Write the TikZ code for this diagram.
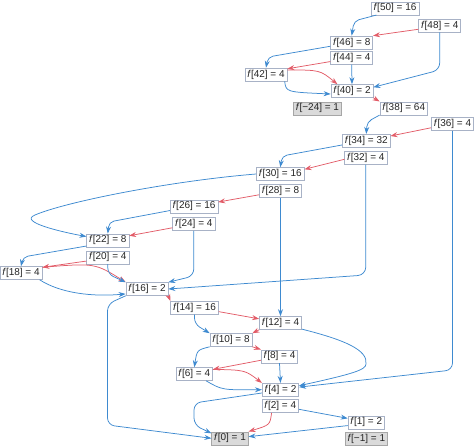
\documentclass[tikz,border=0pt]{standalone}
\usepackage{fontspec}
\setmainfont{Liberation Sans}
\usetikzlibrary{arrows.meta}
\definecolor{eblue}{RGB}{62,138,208}
\definecolor{ered}{RGB}{226,92,104}
\definecolor{boxc}{RGB}{168,178,198}
\definecolor{grayfill}{RGB}{218,218,218}
\newcommand\fv[1]{\textit{f}[#1]}
\begin{document}
\begin{tikzpicture}[x=1pt,y=-1pt,
  box/.style={draw=boxc, fill=white, line width=0.6pt, inner xsep=2.4pt, inner ysep=0pt, minimum height=13pt, text=black!85, font=\fontsize{10}{12}\selectfont},
  gbox/.style={box, fill=grayfill, draw=gray!70},
  be/.style={draw=eblue, line width=0.75pt, -{Stealth[length=7pt,width=5pt]}},
  re/.style={draw=ered, line width=0.75pt, -{Stealth[length=7pt,width=5pt]}}]
\path[use as bounding box] (0,0) rectangle (474,447);
% nodes
\node[box] (n50) at (395,8.3) {\fv{50} = 16};
\node[box] (n48) at (439.7,25.5) {\fv{48} = 4};
\node[box] (n46) at (351.7,42.5) {\fv{46} = 8};
\node[box] (n44) at (351.7,57.8) {\fv{44} = 4};
\node[box] (n42) at (266,74.5) {\fv{42} = 4};
\node[box] (n40) at (352,91) {\fv{40} = 2};
\node[gbox] (nm24) at (317.5,108.3) {\fv{−24} = 1};
\node[box] (n38) at (403.7,108.3) {\fv{38} = 64};
\node[box] (n36) at (452.5,124) {\fv{36} = 4};
\node[box] (n34) at (366.3,140.7) {\fv{34} = 32};
\node[box] (n32) at (365.8,157.8) {\fv{32} = 4};
\node[box] (n30) at (280.3,174) {\fv{30} = 16};
\node[box] (n28) at (280.5,191) {\fv{28} = 8};
\node[box] (n26) at (194,206.3) {\fv{26} = 16};
\node[box] (n24) at (193.8,224) {\fv{24} = 4};
\node[box] (n22) at (107.8,240.3) {\fv{22} = 8};
\node[box] (n20) at (107.8,257.3) {\fv{20} = 4};
\node[box] (n18) at (21,273) {\fv{18} = 4};
\node[box] (n16) at (147,289) {\fv{16} = 2};
\node[box] (n14) at (194.5,307.8) {\fv{14} = 16};
\node[box] (n12) at (280.5,323) {\fv{12} = 4};
\node[box] (n10) at (231,340) {\fv{10} = 8};
\node[box] (n8) at (279.5,356.3) {\fv{8} = 4};
\node[box] (n6) at (194.3,374) {\fv{6} = 4};
\node[box] (n4) at (280.5,389.7) {\fv{4} = 2};
\node[box] (n2) at (280.3,406) {\fv{2} = 4};
\node[box] (n1) at (366.3,422.3) {\fv{1} = 2};
\node[gbox] (n0) at (230,438.3) {\fv{0} = 1};
\node[gbox] (nm1) at (366.3,439) {\fv{−1} = 1};
% edges
\draw[be,rounded corners=5] (n50.200) -- (354,21) -- (n46.north);
\draw[re] (n48.190) -- (n46.north east);
\draw[be,rounded corners=7] (n48.south) -- (439.7,70) -- (n40.10);
\draw[be,rounded corners=5] (n46.190) -- (268,57) -- (n42.north);
\draw[re] (n44.190) -- (n42.15);
\draw[be] (n44.south) -- (n40.north);
\draw[re] (n42.12) .. controls (320,70) .. (n40.155);
\draw[be] (n42.-20) .. controls (286,92) .. (n40.188);
\draw[re] (n40.south east) -- (n38.north west);
\draw[be,rounded corners=5] (n38.south west) -- (367,122) -- (n34.north);
\draw[re] (n36.190) -- (n34.11);
\draw[be,rounded corners=7] (n36.south) -- (452.5,370) -- (n4.8);
\draw[be,rounded corners=5] (n34.190) -- (282,156) -- (n30.north);
\draw[re] (n32.184) -- (n30.11);
\draw[be,rounded corners=8] (n32.south) -- (365.8,275) -- (n16.east);
\draw[be] (n30.west) .. controls (170,181) and (65,202) .. (35,215) .. controls (18,222) and (62,232) .. (n22.170);
\draw[re] (n28.190) -- (n26.10);
\draw[be] (n28.south) -- (n12.north);
\draw[be,rounded corners=5] (n26.190) -- (109,222) -- (n22.north);
\draw[re] (n24.190) -- (n22.12);
\draw[be,rounded corners=7] (n24.south) -- (193.8,276) -- (n16.north east);
\draw[be,rounded corners=5] (n22.195) -- (23,257) -- (n18.north);
\draw[re] (n20.190) -- (n18.15);
\draw[re] (n18.15) .. controls (95,263) .. (n16.north west);
\draw[be,rounded corners=6] (n20.south) -- (107.8,274) -- (n16.north west);
\draw[be] (n18.-20) .. controls (60,293) and (92,297) .. (n16.193);
\draw[re] (n16.south east) -- (n14.north west);
\draw[be,rounded corners=7] (n16.south west) -- (107.5,304) -- (107.5,425) -- (n0.west);
\draw[re] (n14.-9) -- (n12.169);
\draw[be,rounded corners=6] (n14.south) -- (194.5,324) -- (n10.north west);
\draw[re] (n12.south west) -- (n10.north east);
\draw[be] (n12.-16) .. controls (345,340) and (368,350) .. (366,364) .. controls (366,370) and (352,374) .. (n4.12);
\draw[re] (n10.south east) -- (n8.north west);
\draw[be] (n10.south west) .. controls (197,350) .. (n6.north);
\draw[re] (n8.192) -- (n6.14);
\draw[be] (n8.south) -- (n4.north);
\draw[re] (n6.14) .. controls (245,370) .. (n4.160);
\draw[be] (n6.-30) .. controls (222,390) .. (n4.west);
\draw[be,rounded corners=7] (n4.190) -- (194,403) -- (194,425) -- (n0.165);
\draw[re] (n2.-142) .. controls (270,425) .. (n0.north east);
\draw[be] (n2.-10) -- (n1.168);
\draw[be] (n1.190) -- (n0.5);
\end{tikzpicture}
\end{document}
